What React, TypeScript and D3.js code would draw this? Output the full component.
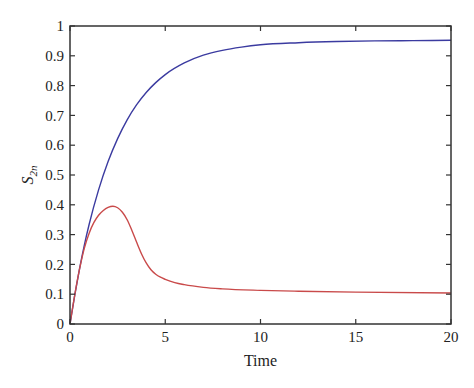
import React from "react";
import * as d3 from "d3";

const timeBlue = [0, 0.25, 0.5, 0.75, 1, 1.5, 2, 2.5, 3, 3.5, 4, 4.5, 5, 6, 7, 8, 9, 10, 12, 14, 16, 18, 20];
const valueBlue = [0, 0.097, 0.185, 0.264, 0.333, 0.45, 0.545, 0.622, 0.685, 0.736, 0.777, 0.81, 0.837, 0.876, 0.902, 0.918, 0.929, 0.937, 0.944, 0.948, 0.95, 0.951, 0.952];

const timeRed = [0, 0.25, 0.5, 0.75, 1, 1.25, 1.5, 1.75, 2, 2.25, 2.5, 2.75, 3, 3.25, 3.5, 3.75, 4, 4.25, 4.5, 4.75, 5, 5.5, 6, 7, 8, 10, 12, 15, 20];
const valueRed = [0, 0.098, 0.184, 0.254, 0.304, 0.34, 0.365, 0.381, 0.391, 0.395, 0.39, 0.375, 0.35, 0.314, 0.274, 0.236, 0.205, 0.182, 0.167, 0.157, 0.15, 0.139, 0.132, 0.123, 0.118, 0.113, 0.11, 0.107, 0.104];

const xTicks = [0, 5, 10, 15, 20];
const yTicks = [0, 0.1, 0.2, 0.3, 0.4, 0.5, 0.6, 0.7, 0.8, 0.9, 1];

export default function App() {
  const W = 474, H = 388;
  const left = 70, right = 451, top = 26, bottom = 324;
  const x = d3.scaleLinear().domain([0, 20]).range([left, right]);
  const y = d3.scaleLinear().domain([0, 1]).range([bottom, top]);
  const line = d3.line<[number, number]>().x(d => x(d[0])).y(d => y(d[1])).curve(d3.curveMonotoneX);
  const blue = line(timeBlue.map((t, i) => [t, valueBlue[i]] as [number, number])) || "";
  const red = line(timeRed.map((t, i) => [t, valueRed[i]] as [number, number])) || "";
  const axisColor = "#333";
  const font = "Liberation Serif, DejaVu Serif, serif";
  const tl = 5;
  return (
    <svg width={W} height={H} style={{ position: "absolute", left: 0, top: 0, background: "#fff", fontFamily: font }}>
      <path d={blue} fill="none" stroke="#3b3ba0" strokeWidth={1.4} />
      <path d={red} fill="none" stroke="#c94a4a" strokeWidth={1.4} />
      <rect x={left} y={top} width={right - left} height={bottom - top} fill="none" stroke={axisColor} strokeWidth={1.5} />
      {xTicks.map(t => (
        <g key={"x" + t}>
          <line x1={x(t)} x2={x(t)} y1={bottom} y2={bottom - tl} stroke={axisColor} strokeWidth={1.2} />
          <line x1={x(t)} x2={x(t)} y1={top} y2={top + tl} stroke={axisColor} strokeWidth={1.2} />
          <text x={x(t)} y={bottom + 18} textAnchor="middle" fontSize={15} fill="#222" style={{ fontFamily: font }}>{t}</text>
        </g>
      ))}
      {yTicks.map(t => (
        <g key={"y" + t}>
          <line x1={left} x2={left + tl} y1={y(t)} y2={y(t)} stroke={axisColor} strokeWidth={1.2} />
          <line x1={right} x2={right - tl} y1={y(t)} y2={y(t)} stroke={axisColor} strokeWidth={1.2} />
          <text x={left - 6} y={y(t)} dy="0.35em" textAnchor="end" fontSize={15} fill="#222" style={{ fontFamily: font }}>{t}</text>
        </g>
      ))}
      <text x={(left + right) / 2} y={366} textAnchor="middle" fontSize={16} fill="#222" style={{ fontFamily: font }}>Time</text>
      <text transform={`translate(33, ${(top + bottom) / 2}) rotate(-90)`} textAnchor="middle" fontSize={16} fill="#222" fontStyle="italic" style={{ fontFamily: font }}>
        S<tspan fontSize={11} dy={4}>2n</tspan>
      </text>
    </svg>
  );
}
